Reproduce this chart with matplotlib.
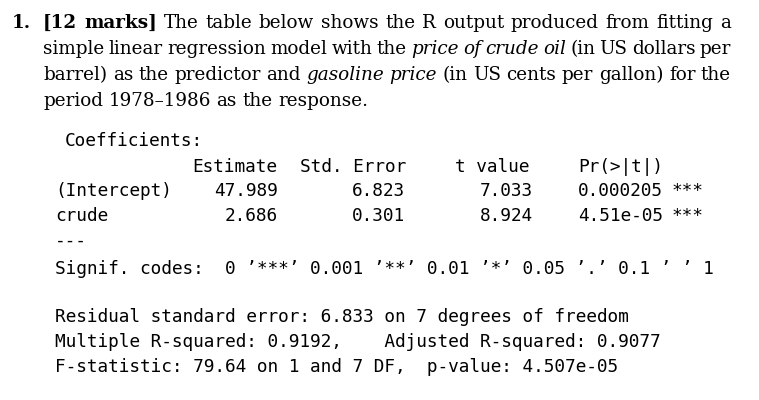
import matplotlib
matplotlib.use("Agg")
import matplotlib.pyplot as plt

W, H = 759, 400

terms = ["(Intercept)", "crude"]
estimates = ["47.989", "2.686"]
std_errors = ["6.823", "0.301"]
t_values = ["7.033", "8.924"]
p_values = ["0.000205", "4.51e-05"]
signif = ["***", "***"]
summary_lines = [
    "Residual standard error: 6.833 on 7 degrees of freedom",
    "Multiple R-squared: 0.9192,    Adjusted R-squared: 0.9077",
    "F-statistic: 79.64 on 1 and 7 DF,  p-value: 4.507e-05",
]

# paragraph: lists of (word, style) per line, N = normal, B = bold, I = italic
para = [
    [("[12", "B"), ("marks]", "B"), ("The", "N"), ("table", "N"), ("below", "N"), ("shows", "N"),
     ("the", "N"), ("R", "N"), ("output", "N"), ("produced", "N"), ("from", "N"), ("fitting", "N"), ("a", "N")],
    [("simple", "N"), ("linear", "N"), ("regression", "N"), ("model", "N"), ("with", "N"), ("the", "N"),
     ("price", "I"), ("of", "I"), ("crude", "I"), ("oil", "I"), ("(in", "N"), ("US", "N"),
     ("dollars", "N"), ("per", "N")],
    [("barrel)", "N"), ("as", "N"), ("the", "N"), ("predictor", "N"), ("and", "N"), ("gasoline", "I"),
     ("price", "I"), ("(in", "N"), ("US", "N"), ("cents", "N"), ("per", "N"), ("gallon)", "N"),
     ("for", "N"), ("the", "N")],
    [("period", "N"), ("1978\u20131986", "N"), ("as", "N"), ("the", "N"), ("response.", "N")],
]

fig = plt.figure(figsize=(W / 100, H / 100), dpi=100)
fig.patch.set_facecolor("white")
renderer = fig.canvas.get_renderer()

SERIF = "DejaVu Serif"
MONO = "DejaVu Sans Mono"
FS = 13.2
MFS = 12.8


def px(x, y):
    return x / W, 1 - y / H


def put(x, y, s, **kw):
    kw.setdefault("va", "baseline")
    return fig.text(*px(x, y), s, **kw)


def style_kw(st):
    return dict(family=SERIF, fontsize=FS,
                weight="bold" if st == "B" else "normal",
                style="italic" if st == "I" else "normal")


put(12, 28, "1.", **style_kw("B"))
left, right = 43, 731
for i, line in enumerate(para):
    y = 28 + 26 * i
    texts = [put(0, y, w, **style_kw(st)) for w, st in line]
    widths = [t.get_window_extent(renderer).width for t in texts]
    if i < len(para) - 1:
        gap = (right - left - sum(widths)) / (len(line) - 1)
    else:
        gap = 5.5
    x = left
    for t, w in zip(texts, widths):
        t.set_position(px(x, y))
        x += w + gap

mk = dict(family=MONO, fontsize=MFS)
put(65, 146, "Coefficients:", **mk)
put(192, 172, "Estimate", **mk)
put(300, 172, "Std. Error", **mk)
put(455, 172, "t value", **mk)
put(578, 172, "Pr(>|t|)", **mk)
for i, term in enumerate(terms):
    y = 196 + 25 * i
    put(55, y, term, **mk)
    put(278, y, estimates[i], ha="right", **mk)
    put(405, y, std_errors[i], ha="right", **mk)
    put(533, y, t_values[i], ha="right", **mk)
    put(578, y, p_values[i], **mk)
    put(672, y, signif[i], **mk)
put(55, 246, "---", **mk)
put(55, 274, "Signif. codes:  0 \u2019***\u2019 0.001 \u2019**\u2019 0.01 \u2019*\u2019 0.05 \u2019.\u2019 0.1 \u2019 \u2019 1", **mk)
for i, s in enumerate(summary_lines):
    put(55, 322 + 25 * i, s, **mk)

fig.savefig("out.png", dpi=100)
